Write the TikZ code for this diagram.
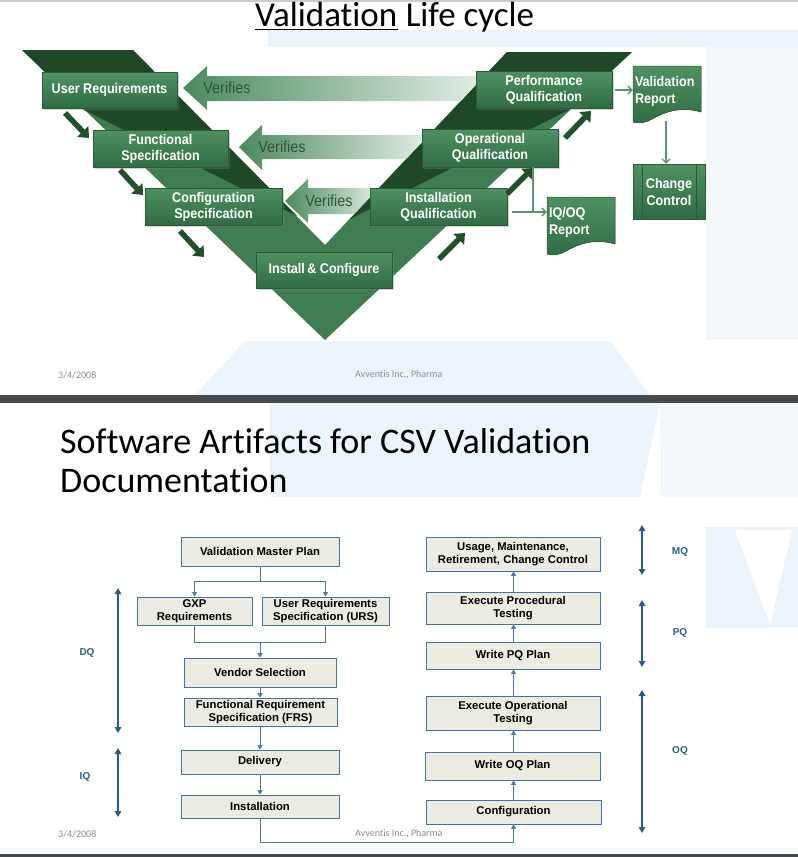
\documentclass[tikz,border=0pt]{standalone}
\usepackage{fontspec}
\setmainfont{Carlito}[Ligatures=NoCommon]
\newfontfamily\narrowfont{Liberation Sans}[FakeStretch=0.9]
\newfontfamily\arialfont{Liberation Sans}
\usetikzlibrary{arrows.meta,shadows}
\definecolor{vmed}{HTML}{3F7E53}
\definecolor{vdark}{HTML}{1F4828}
\definecolor{boxtop}{HTML}{4E9163}
\definecolor{boxbot}{HTML}{306C44}
\definecolor{boxline}{HTML}{2A5A36}
\definecolor{verif}{HTML}{2E553A}
\definecolor{arrgreen}{HTML}{4B8A5E}
\definecolor{arrfade}{HTML}{E4EEE7}
\definecolor{blockgreen}{HTML}{23502C}
\definecolor{thingreen}{HTML}{5A9470}
\definecolor{wm}{HTML}{EAF4FA}
\definecolor{wmlight}{HTML}{F3F7FA}
\definecolor{barcol}{HTML}{46494E}
\definecolor{footgray}{HTML}{8C8C8C}
\definecolor{beige}{HTML}{ECEBE2}
\definecolor{bborder}{HTML}{4472A8}
\definecolor{bline}{HTML}{4F78AA}
\definecolor{dblue}{HTML}{2C5790}
\definecolor{lblue}{HTML}{2F5A8C}
\tikzset{
  vbox/.style={draw=boxline, line width=0.5pt, top color=boxtop, bottom color=boxbot,
    text=white, font=\narrowfont\bfseries\fontsize{14}{16}\selectfont, align=center,
    inner sep=0pt, drop shadow={shadow xshift=1.5pt, shadow yshift=-1.5pt, opacity=0.35}},
  docfill/.style={draw=boxline, line width=0.5pt, top color=boxtop, bottom color=boxbot},
  doctext/.style={text=white, font=\narrowfont\bfseries\fontsize{14}{17}\selectfont, align=left, inner sep=2pt},
  verarrow/.style={left color=arrgreen, right color=arrfade, draw=none},
  vertext/.style={text=verif, font=\narrowfont\fontsize{16}{18}\selectfont, inner sep=0pt},
  blockarrow/.style={draw=blockgreen, line width=5.5pt, -{Triangle[length=9pt,width=15pt]}},
  thinarrow/.style={draw=thingreen, line width=1.3pt, -{Straight Barb[length=4pt,width=8pt]}},
  thinline/.style={draw=thingreen, line width=1.3pt},
  sbox/.style={draw=bborder, line width=0.8pt, fill=beige, font=\arialfont\bfseries\fontsize{11.3}{13.5}\selectfont,
    align=center, inner sep=0pt},
  conn/.style={draw=bline, line width=0.8pt},
  connarrow/.style={draw=bline, line width=0.8pt, -{Triangle[length=4.5pt,width=5pt]}},
  dbl/.style={draw=dblue, line width=1.8pt, {Triangle[length=6pt,width=6.5pt]}-{Triangle[length=6pt,width=6.5pt]}},
  qlabel/.style={text=lblue, font=\arialfont\bfseries\fontsize{10}{12}\selectfont},
  footer/.style={text=footgray, font=\fontsize{10}{12}\selectfont, inner sep=0pt},
  titlefont/.style={font=\fontsize{35}{40}\selectfont, inner sep=0pt, text=black}
}
\begin{document}
\begin{tikzpicture}[x=1pt,y=-1pt]
\useasboundingbox (0,0) rectangle (798,857);
\fill[white] (0,0) rectangle (798,857);
\fill[black!20] (0,0) rectangle (798,2);
% ---------- watermark shapes, slide 1
\fill[wm] (268,30) rectangle (798,47);
\fill[wmlight] (706,47) rectangle (798,340);
\fill[wm] (195,395) -- (245,341) -- (610,341) -- (650,395) -- cycle;
% ---------- watermark shapes, slide 2
\fill[wm] (270,403) -- (660,403) -- (640,497) -- (270,497) -- cycle;
\fill[wmlight] (660,403) rectangle (798,497);
\fill[wm] (706,527) rectangle (798,628);
\fill[white] (735,530) -- (792,530) -- (770,625) -- cycle;
% ---------- separator bars
\fill[barcol] (0,395) rectangle (798,403);
\fill[barcol] (0,854) rectangle (798,857);

% ---------- Slide 1 title
\node[titlefont, anchor=base west] (tv) at (255,26) {Validation};
\node[titlefont, anchor=base west] (tl) at ([xshift=8pt]tv.base east) {Life cycle};
\draw[line width=1.8pt] ([yshift=-3.5pt]tv.base west) -- ([yshift=-3.5pt]tv.base east);

% ---------- V shape
\fill[vmed] (22,50) -- (133,50) -- (325,245) -- (507,52) -- (632,52) -- (325,340) -- cycle;
\fill[vdark] (22,50) -- (133,50) -- (297,216) -- (84,110) -- cycle;
\fill[vdark] (507,52) -- (632,52) -- (569,110) -- (350,219) -- cycle;

% ---------- Verifies arrows
\shade[verarrow] (183,88) -- (207,66) -- (207,76) -- (484,76) -- (461,101) -- (207,101) -- (207,110) -- cycle;
\shade[verarrow] (239,147) -- (262,125) -- (262,135) -- (429,135) -- (406,159) -- (262,159) -- (262,170) -- cycle;
\shade[verarrow] (285,201) -- (308,179) -- (308,188) -- (379,188) -- (354,214) -- (308,214) -- (308,223) -- cycle;
\node[vertext] (v1) at (227,88) {Verifies};
\node[vertext] (v2) at (282,147) {Verifies};
\node[vertext] (v3) at (329,201) {Verifies};

% ---------- V boxes
\node[vbox, minimum width=135pt, minimum height=36pt] (ur) at (109.5,90) {User Requirements};
\node[vbox, minimum width=135pt, minimum height=37pt] (fs) at (160.5,148.5) {Functional\\Specification};
\node[vbox, minimum width=137pt, minimum height=37pt] (cs) at (213.5,206.5) {Configuration\\Specification};
\node[vbox, minimum width=136pt, minimum height=36pt] (ic) at (324,270) {Install\,\& Configure};
\node[vbox, minimum width=137pt, minimum height=37pt] (iq) at (438.5,206.5) {Installation\\Qualification};
\node[vbox, minimum width=136pt, minimum height=38pt] (oq) at (490,148) {Operational\\Qualification};
\node[vbox, minimum width=136pt, minimum height=37pt] (pq) at (544,89.5) {Performance\\Qualification};

% ---------- block arrows
\coordinate (d1a) at (65,113); \coordinate (d1b) at (89,138);
\coordinate (d2a) at (120,170); \coordinate (d2b) at (143,195);
\coordinate (d3a) at (180,231); \coordinate (d3b) at (204,257);
\coordinate (u1a) at (439,259); \coordinate (u1b) at (465,233);
\coordinate (u2a) at (507,194); \coordinate (u2b) at (533,168);
\coordinate (u3a) at (565,138); \coordinate (u3b) at (591,111);
\draw[blockarrow] (d1a) -- (d1b);
\draw[blockarrow] (d2a) -- (d2b);
\draw[blockarrow] (d3a) -- (d3b);
\draw[blockarrow] (u1a) -- (u1b);
\draw[blockarrow] (u2a) -- (u2b);
\draw[blockarrow] (u3a) -- (u3b);

% ---------- Validation Report (document)
\fill[docfill] (633,66) -- (701,66) -- (701,112) .. controls (680,106) and (665,112) .. (652,119) .. controls (645,123) and (639,124) .. (633,122) -- cycle;
\node[doctext, minimum width=68pt, minimum height=48pt, text width=64pt] (vr) at (667,91) {Validation\\Report};
% ---------- Change Control (predefined process)
\node[docfill, minimum width=72pt, minimum height=55pt, inner sep=0pt, text=white,
      font=\narrowfont\bfseries\fontsize{14}{17}\selectfont, align=center] (cc) at (669,191.5) {Change\\Control};
\draw[boxline, line width=0.7pt] (642,164) -- (642,219);
\draw[boxline, line width=0.7pt] (696,164) -- (696,219);
% ---------- IQ/OQ Report (document)
\fill[docfill] (547,197) -- (615,197) -- (615,244) .. controls (594,238) and (579,244) .. (566,251) .. controls (559,255) and (553,256) .. (547,254) -- cycle;
\node[doctext, minimum width=68pt, minimum height=47pt, text width=64pt] (iqoq) at (581,222) {IQ/OQ\\Report};

% ---------- thin connectors
\coordinate (vrb) at (666,121);
\coordinate (jn) at (533,212);
\draw[thinarrow, shorten <=3pt] (pq.east |- 0,90) -- (vr.west |- 0,90);
\draw[thinarrow] (vrb) -- (vrb |- cc.north);
\draw[thinline] (oq.south -| jn) -- (jn);
\draw[thinarrow, shorten <=5pt] (iq.east |- jn) -- (iqoq.west |- jn);

% ---------- Slide 1 footer
\node[footer, anchor=west] (f1a) at (58,375) {3/4/2008};
\node[footer, anchor=west] (f1b) at (355,375) {Avventis Inc., Pharma};

% ---------- Slide 2 title
\node[titlefont, font=\fontsize{36}{39}\selectfont, anchor=base west, align=left] (t2a) at (60,453) {Software Artifacts for CSV Validation};
\node[titlefont, font=\fontsize{36}{39}\selectfont, anchor=base west, align=left] (t2b) at (60,492) {Documentation};

% ---------- Slide 2 boxes, left column
\node[sbox, minimum width=158pt, minimum height=29pt] (vmp) at (260,551.5) {Validation Master Plan};
\node[sbox, minimum width=115pt, minimum height=28pt] (gxp) at (194.5,611) {GXP\\Requirements};
\node[sbox, minimum width=127pt, minimum height=28pt] (urs) at (325.5,611) {User Requirements\\Specification (URS)};
\node[sbox, minimum width=152pt, minimum height=29pt] (ven) at (260,672.5) {Vendor Selection};
\node[sbox, minimum width=153pt, minimum height=28pt] (frs) at (260.5,712) {Functional Requirement\\Specification (FRS)};
\node[sbox, minimum width=158pt, minimum height=24pt] (del) at (260,762) {Delivery};
\node[sbox, minimum width=158pt, minimum height=23pt] (ins) at (260,806.5) {Installation};
% ---------- right column
\node[sbox, minimum width=174pt, minimum height=34pt] (umr) at (513,554) {Usage, Maintenance,\\Retirement, Change Control};
\node[sbox, minimum width=174pt, minimum height=32pt] (ept) at (513,608) {Execute Procedural\\Testing};
\node[sbox, minimum width=174pt, minimum height=27pt] (wpq) at (513,655.5) {Write PQ Plan};
\node[sbox, minimum width=174pt, minimum height=34pt] (eot) at (513,713) {Execute Operational\\Testing};
\node[sbox, minimum width=175pt, minimum height=28pt] (woq) at (512.5,766) {Write OQ Plan};
\node[sbox, minimum width=175pt, minimum height=24pt] (cfg) at (513.5,812) {Configuration};

% ---------- Slide 2 connectors
\coordinate (b1) at (260,581);
\coordinate (b2) at (260,642);
\coordinate (b3) at (260,842);
\draw[conn] (vmp.south) -- (b1);
\draw[connarrow] (b1) -| (gxp.north);
\draw[connarrow] (b1) -| (urs.north);
\draw[conn] (gxp.south) |- (b2);
\draw[conn] (urs.south) |- (b2);
\draw[connarrow] (b2) -- (ven.north);
\draw[connarrow] (ven.south) -- (ven.south |- frs.north);
\draw[connarrow] (frs.south -| ven.south) -- (ven.south |- del.north);
\draw[connarrow] (del.south) -- (ins.north);
\draw[connarrow] (ins.south) -- (b3) -| (cfg.south);
\draw[connarrow] (cfg.north) -- (cfg.north |- woq.south);
\draw[connarrow] (cfg.north |- woq.north) -- (cfg.north |- eot.south);
\draw[connarrow] (cfg.north |- eot.north) -- (cfg.north |- wpq.south);
\draw[connarrow] (cfg.north |- wpq.north) -- (cfg.north |- ept.south);
\draw[connarrow] (cfg.north |- ept.north) -- (cfg.north |- umr.south);

% ---------- Slide 2 phase arrows
\coordinate (dq1) at (118,588); \coordinate (dq2) at (118,733);
\coordinate (iq1) at (118,748); \coordinate (iq2) at (118,817);
\coordinate (mq1) at (642,525); \coordinate (mq2) at (642,575);
\coordinate (pq1) at (642,600); \coordinate (pq2) at (642,667);
\coordinate (oq1) at (642,690); \coordinate (oq2) at (642,833);
\draw[dbl] (dq1) -- (dq2);
\draw[dbl] (iq1) -- (iq2);
\draw[dbl] (mq1) -- (mq2);
\draw[dbl] (pq1) -- (pq2);
\draw[dbl] (oq1) -- (oq2);
\node[qlabel] (ldq) at (87,653) {DQ};
\node[qlabel] (liq) at (85,777) {IQ};
\node[qlabel] (lmq) at (680,552) {MQ};
\node[qlabel] (lpq) at (680,633) {PQ};
\node[qlabel] (loq) at (680,751) {OQ};

% ---------- Slide 2 footer
\node[footer, anchor=west] (f2a) at (58,834) {3/4/2008};
\node[footer, anchor=west] (f2b) at (355,834) {Avventis Inc., Pharma};
\end{tikzpicture}
\end{document}
